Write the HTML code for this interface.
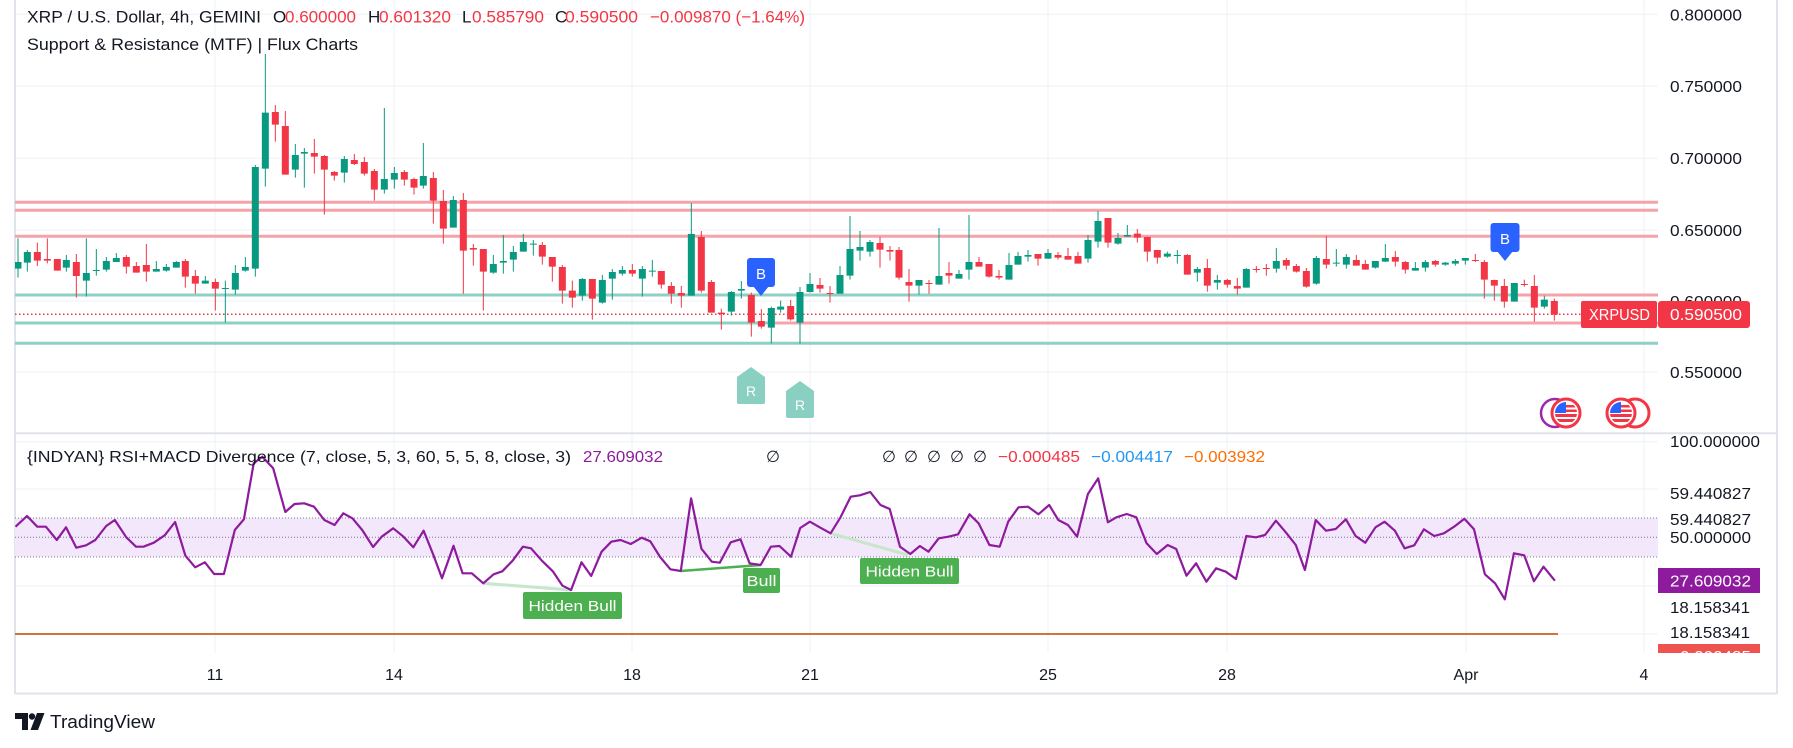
<!DOCTYPE html>
<html><head><meta charset="utf-8"><style>
html,body{margin:0;padding:0;background:#fff;width:1793px;height:748px;overflow:hidden}
svg{display:block}
text{font-family:"Liberation Sans",sans-serif}
</style></head><body>
<svg width="1793" height="748" viewBox="0 0 1793 748" xmlns="http://www.w3.org/2000/svg">
<defs>
<clipPath id="cp1"><rect x="15" y="0" width="1643" height="433"/></clipPath>
<clipPath id="cp2"><rect x="15" y="434" width="1643" height="219"/></clipPath>
<clipPath id="redbox"><rect x="1658" y="644" width="102" height="9"/></clipPath>
<clipPath id="f1"><circle cx="1566" cy="413" r="11"/></clipPath>
<clipPath id="f2"><circle cx="1621" cy="413" r="11"/></clipPath>
</defs>
<rect width="1793" height="748" fill="#fff"/>
<!-- vertical grid -->
<g stroke="#eef0f5" stroke-width="1">
<path d="M215 0V653M394 0V653M632 0V653M810 0V653M1048 0V653M1227 0V653M1466 0V653M1644 0V653"/>
<path d="M15 14.3H1658M15 86H1658M15 158.3H1658M15 230H1658M15 301H1658M15 372H1658"/>
<path d="M15 441.7H1658M15 489H1658M15 586H1658M15 634H1658"/>
</g>
<!-- borders -->
<g stroke="#e0e3eb" stroke-width="2" fill="none">
<path d="M15 0V694M1777 0V694M15 693.5H1777M15 433.3H1777"/>
</g>

<!-- price pane -->
<g clip-path="url(#cp1)">
<g stroke-width="3" fill="none">
<path d="M15 202.3H1658M15 210.3H1658M15 236.3H1658" stroke="#f5a3a9"/>
<path d="M15 295H1517M15 323H771M15 343.3H1658" stroke="#8fd0c5"/>
<path d="M1517 295H1658M771 323H1658" stroke="#f5a3a9"/>
</g>
<path d="M15 314.3H1581" stroke="#f23645" stroke-width="1.5" stroke-dasharray="1.5 2.5"/>

<!-- chunk A -->
<g transform="translate(14,50) scale(0.33333)" fill="none">
<path stroke="#089981" stroke-width="3" d="M12 565V683M40 600V665M157 615V665M217 565V740M247 597V677M277 621V665M307 609V636M427 633V665M457 642V665M487 633V653M574 678V701M634 692V818M664 645V734M694 621V665M724 345V680M754 12V410M844 282V383M871 294V413M991 318V398M1111 174V431M1141 351V416"/>
<path stroke="#089981" stroke-width="21" d="M12 636V656M40 606V638M157 630V653M217 669V692M247 660V663M277 633V659M307 624V636M427 657V665M457 651V662M487 636V653M574 692V701M634 714V717M664 669V719M694 651V662M724 351V656M754 188V356M844 315V359M871 306V311M991 327V368M1111 387V419M1141 369V389"/>
<path stroke="#f23645" stroke-width="3" d="M70 578V648M100 565V640M130 627V662M187 612V743M337 615V671M367 636V668M397 582V695M514 627V713M544 660V731M604 686V782M784 165V275M814 183V374M901 267V371M931 315V494M961 363V392M1021 312V345M1051 321V377M1081 357V452M1171 360V407"/>
<path stroke="#f23645" stroke-width="21" d="M70 606V632M100 627V632M130 627V662M187 636V678M337 621V650M367 648V668M397 645V665M514 633V680M544 678V701M604 696V716M784 186V224M814 228V374M901 309V320M931 318V359M961 366V377M1021 330V342M1051 336V371M1081 363V419M1171 366V389"/>
</g>
<!-- chunk B -->
<g transform="translate(404,50) scale(0.33333)" fill="none">
<path stroke="#089981" stroke-width="3" d="M58 279V416M148 438V533M268 615V671M298 555V671M328 588V665M358 552V605M388 570V617M535 684V752M595 675V761M625 657V749M655 648V677M715 648V740M745 630V680M862 459V737M982 723V797M1012 693V746M1102 770V880M1130 752V788"/>
<path stroke="#089981" stroke-width="21" d="M58 378V407M148 450V533M268 642V668M298 633V638M328 606V629M358 576V605M388 581V584M535 687V737M595 690V758M625 666V686M655 660V671M715 657V686M745 662V665M862 552V737M982 726V785M1012 717V722M1102 774V833M1130 770V779"/>
<path stroke="#f23645" stroke-width="3" d="M30 383V434M88 366V521M118 420V581M178 429V731M208 582V647M238 597V782M415 576V644M445 621V695M475 645V761M505 692V773M565 687V809M685 642V680M772 663V716M802 696V761M832 708V773M892 543V728M922 690V788M952 776V839M1042 728V860M1072 777V836M1160 750V812"/>
<path stroke="#f23645" stroke-width="21" d="M30 387V413M88 384V452M118 453V536M178 450V602M208 594V599M238 597V665M415 585V620M445 621V650M475 651V722M505 722V743M565 687V746M685 660V671M772 663V704M802 708V731M832 729V737M892 561V722M922 696V788M952 788V792M1042 735V818M1072 813V830M1160 768V808"/>
</g>
<!-- chunk C -->
<g transform="translate(794,50) scale(0.33333)" fill="none">
<path stroke="#089981" stroke-width="3" d="M18 711V881M48 669V728M138 648V731M168 498V689M198 543V632M228 570V620M375 690V734M435 534V704M495 660V686M525 495V689M645 609V689M672 606V644M702 600V635M762 597V627M882 555V638M912 483V593M972 549V584M1000 525V560M1120 605V623M1150 600V641"/>
<path stroke="#089981" stroke-width="21" d="M18 726V818M48 702V726M138 675V731M168 597V677M198 591V602M228 576V605M375 690V707M435 678V704M495 672V686M525 636V659M645 645V689M672 618V644M702 615V620M762 609V626M882 570V626M912 513V575M972 564V581M1000 555V560M1120 611V620M1150 615V618"/>
<path stroke="#f23645" stroke-width="3" d="M78 684V728M108 708V758M258 561V653M288 588V632M315 591V689M345 657V755M405 690V731M465 636V701M555 621V650M585 642V683M615 660V689M732 612V647M792 606V629M822 594V629M852 606V641M942 504V593M1030 537V578M1060 560V635M1090 600V641"/>
<path stroke="#f23645" stroke-width="21" d="M78 705V716M108 729V732M258 579V599M288 600V605M315 600V683M345 696V707M405 699V702M465 669V677M555 636V650M585 642V680M615 678V683M732 612V626M792 615V623M822 618V629M852 618V641M942 504V578M1030 551V563M1060 561V605M1090 600V623"/>
</g>
<!-- chunk D -->
<g transform="translate(1184,50) scale(0.33333)" fill="none">
<path stroke="#089981" stroke-width="3" d="M40 651V695M100 675V719M187 654V713M277 594V668M397 618V704M457 597V650M487 612V656M574 633V656M604 582V636M694 636V662M724 630V665M784 636V647M814 627V647M844 624V644M991 699V755M1081 737V776"/>
<path stroke="#089981" stroke-width="21" d="M40 657V668M100 690V698M187 657V713M277 633V656M397 624V701M457 638V641M487 621V644M574 633V653M604 624V635M694 654V662M724 636V653M784 638V644M814 633V641M844 624V632M991 699V755M1081 749V770"/>
<path stroke="#f23645" stroke-width="3" d="M10 612V674M70 627V725M130 687V713M160 684V734M217 648V668M247 642V677M307 624V659M337 642V668M367 654V713M427 558V656M517 615V647M544 630V659M634 603V650M664 633V671M754 630V650M874 612V636M901 630V746M931 689V752M961 687V773M1021 689V710M1051 675V815M1111 746V812"/>
<path stroke="#f23645" stroke-width="21" d="M10 615V674M70 654V707M130 690V704M160 708V716M217 657V660M247 654V657M307 630V647M337 648V665M367 663V710M427 627V644M517 630V647M544 642V659M634 621V635M664 636V659M754 633V644M874 630V633M901 636V689M931 690V707M961 708V755M1021 702V705M1051 708V773M1111 753V794"/>
</g>

<!-- B markers -->
<rect x="747" y="258" width="28" height="29" rx="3" fill="#2962ff"/>
<path d="M753 286L761 296L769 286Z" fill="#2962ff"/>
<text x="761" y="279" font-size="15" fill="#fff" text-anchor="middle">B</text>
<rect x="1490.5" y="223" width="29" height="29" rx="3" fill="#2962ff"/>
<path d="M1497 251L1505 261L1513 251Z" fill="#2962ff"/>
<text x="1505" y="244" font-size="15" fill="#fff" text-anchor="middle">B</text>
<!-- R markers -->
<path d="M751 367L765 377V402Q765 404 763 404H739Q737 404 737 402V377Z" fill="#89cfc2"/>
<text x="751" y="396" font-size="14" fill="#fff" text-anchor="middle">R</text>
<path d="M800 381L814 391V416Q814 418 812 418H788Q786 418 786 416V391Z" fill="#89cfc2"/>
<text x="800" y="410" font-size="14" fill="#fff" text-anchor="middle">R</text>
</g>

<!-- flags -->
<circle cx="1555" cy="413" r="14" fill="#fff" stroke="#9c27b0" stroke-width="2.5"/>
<circle cx="1566" cy="413" r="14" fill="#fff" stroke="#f23645" stroke-width="3"/>
<g clip-path="url(#f1)">
<rect x="1555" y="402" width="22" height="22" fill="#fff"/>
<rect x="1566" y="405" width="11" height="2.5" fill="#f23645"/>
<rect x="1566" y="409.5" width="11" height="2.5" fill="#f23645"/>
<rect x="1555" y="414" width="22" height="3" fill="#f23645"/>
<rect x="1555" y="419" width="22" height="3" fill="#f23645"/>
<rect x="1555" y="402" width="11" height="11" fill="#2962ff"/>
</g>
<circle cx="1635" cy="413" r="14" fill="#fff" stroke="#f23645" stroke-width="3"/>
<circle cx="1621" cy="413" r="14" fill="#fff" stroke="#f23645" stroke-width="3"/>
<g clip-path="url(#f2)">
<rect x="1610" y="402" width="22" height="22" fill="#fff"/>
<rect x="1621" y="405" width="11" height="2.5" fill="#f23645"/>
<rect x="1621" y="409.5" width="11" height="2.5" fill="#f23645"/>
<rect x="1610" y="414" width="22" height="3" fill="#f23645"/>
<rect x="1610" y="419" width="22" height="3" fill="#f23645"/>
<rect x="1610" y="402" width="11" height="11" fill="#2962ff"/>
</g>

<!-- legend price pane -->
<text x="27" y="22.5" font-size="17" fill="#131722" textLength="234" lengthAdjust="spacingAndGlyphs">XRP / U.S. Dollar, 4h, GEMINI</text>
<text x="273" y="22.5" font-size="17" fill="#131722">O</text>
<text x="285" y="22.5" font-size="17" fill="#f23645" textLength="71" lengthAdjust="spacingAndGlyphs">0.600000</text>
<text x="368" y="22.5" font-size="17" fill="#131722">H</text>
<text x="379" y="22.5" font-size="17" fill="#f23645" textLength="72" lengthAdjust="spacingAndGlyphs">0.601320</text>
<text x="462" y="22.5" font-size="17" fill="#131722">L</text>
<text x="472" y="22.5" font-size="17" fill="#f23645" textLength="72" lengthAdjust="spacingAndGlyphs">0.585790</text>
<text x="555" y="22.5" font-size="17" fill="#131722">C</text>
<text x="565" y="22.5" font-size="17" fill="#f23645" textLength="73" lengthAdjust="spacingAndGlyphs">0.590500</text>
<text x="650" y="22.5" font-size="17" fill="#f23645" textLength="155" lengthAdjust="spacingAndGlyphs">−0.009870 (−1.64%)</text>
<text x="27" y="50" font-size="17" fill="#131722" textLength="331" lengthAdjust="spacingAndGlyphs">Support &amp; Resistance (MTF) | Flux Charts</text>

<!-- price axis -->
<g font-size="16" fill="#131722">
<text x="1670" y="20.5" textLength="72" lengthAdjust="spacingAndGlyphs">0.800000</text>
<text x="1670" y="92" textLength="72" lengthAdjust="spacingAndGlyphs">0.750000</text>
<text x="1670" y="164" textLength="72" lengthAdjust="spacingAndGlyphs">0.700000</text>
<text x="1670" y="236" textLength="72" lengthAdjust="spacingAndGlyphs">0.650000</text>
<text x="1670" y="307" textLength="72" lengthAdjust="spacingAndGlyphs">0.600000</text>
<text x="1670" y="378" textLength="72" lengthAdjust="spacingAndGlyphs">0.550000</text>
</g>
<rect x="1581" y="301" width="76" height="27" rx="2" fill="#f23645"/>
<text x="1589" y="320" font-size="16" fill="#fff" textLength="61" lengthAdjust="spacingAndGlyphs">XRPUSD</text>
<rect x="1658" y="301" width="92" height="27" rx="3" fill="#f23645"/>
<text x="1670" y="320" font-size="16" fill="#fff" textLength="72" lengthAdjust="spacingAndGlyphs">0.590500</text>

<!-- RSI pane -->
<g clip-path="url(#cp2)">
<rect x="15" y="518" width="1643" height="39" fill="#f3e8fb"/>
<path d="M15 518H1658M15 537.3H1658M15 557H1658" stroke="#787b86" stroke-width="1" stroke-dasharray="1 2"/>
<path d="M15 634H1558" stroke="#d2733a" stroke-width="2"/>
<path d="M483.3 583.3L571.1 590M830.6 533.3L908 555" stroke="#c8e6c9" stroke-width="3" fill="none"/>
<path d="M680.8 571L760.6 565" stroke="#4caf50" stroke-width="2.5" fill="none"/>
<polyline fill="none" stroke="#8e1a9e" stroke-width="2.2" stroke-linejoin="round" points="15.5,526.7 27,516 37.3,526.7 45.9,526.7 56.8,540 66,527.3 76.3,547.7 86.1,545.3 95.3,540 106.2,526 114.8,520 126.3,537.3 136,546.7 143.5,546.7 153.8,542.7 164.7,535.3 175.1,522 185.4,555.7 195.2,567.3 204.9,562.3 214.1,574 223.9,574 234.8,530 243.9,519.3 253.7,463.3 262.3,456.7 273.2,468.3 285.3,512 294.5,504 304.2,503.3 314,506.7 324.3,520 334.6,525 343.3,513.3 352.4,518.3 362.2,530 373.1,547 381.7,536.7 393.2,528.3 403.5,536.7 413.3,547.3 423.6,530.7 433.4,555 442,578.3 453.5,545.7 462.6,573.3 471.8,573.3 483.3,583.3 493.6,574.3 502.3,571.3 512.6,560.7 522.9,546.7 531,548.3 541.9,560.7 552.8,571.3 562.5,585.7 571.1,590 581.5,562.3 591.2,576 601.6,551.7 611.3,541.7 620.5,540 630.8,544 641.7,537.7 650.3,541.3 660.1,557 670.4,569.3 680.8,571 691.1,498.3 701.4,548.7 711.8,561.7 719.8,562.7 730.7,542.3 740.5,539.3 749.6,563.3 760.6,565 770.9,546.7 779.5,546 791,556.7 800.2,528 809.9,521.7 819.7,527.3 830.6,533.3 840.3,517.7 850.7,496.7 859.9,495.3 870.2,492 880.5,505 889.7,509 900,546.7 910.3,554 919.9,546 928.5,551.7 938.7,538.3 948.4,536.7 958.1,534.3 969.5,514.3 978.6,523.3 989.4,545 999.7,546.7 1008.2,521.7 1018.5,507.3 1028.1,506.7 1038.4,514.3 1049.2,505 1058.3,520 1068,525 1077.1,536.7 1087.9,494 1098.2,478.3 1107.9,522.3 1116.4,517.3 1126.7,514 1136.3,517.3 1146.6,543.3 1156.8,554 1167.7,545 1176.2,549 1186.5,575.7 1196.1,563.3 1206.4,581.7 1216.1,568.3 1225.8,571.7 1236,579 1246.3,536 1255.9,537.3 1265,535 1275.9,520.7 1286.1,532.7 1295.8,545 1304.9,570 1315.7,520 1326,530.7 1335.7,529 1345.9,519.3 1355.6,536 1365.3,542.7 1375.5,527.3 1384.6,521.7 1394.9,530.7 1404.6,548.3 1414.3,545.3 1423.9,529.3 1434.2,536 1443.9,533.3 1454.1,526.7 1464.4,518.7 1474,529.3 1484.9,574.3 1495.1,583.3 1504.8,599.3 1513.9,553.3 1524.2,555.3 1533.9,581.3 1543.5,566.7 1554.9,580.7"/>
<rect x="523" y="592" width="99" height="27" rx="2" fill="#4caf50"/>
<text x="572.5" y="611" font-size="15" fill="#fff" text-anchor="middle" textLength="88" lengthAdjust="spacingAndGlyphs">Hidden Bull</text>
<rect x="743" y="568" width="37" height="25" rx="2" fill="#4caf50"/>
<text x="761.5" y="586" font-size="15" fill="#fff" text-anchor="middle" textLength="30" lengthAdjust="spacingAndGlyphs">Bull</text>
<rect x="860" y="558" width="99" height="26" rx="2" fill="#4caf50"/>
<text x="909.5" y="576.5" font-size="15" fill="#fff" text-anchor="middle" textLength="88" lengthAdjust="spacingAndGlyphs">Hidden Bull</text>
</g>

<!-- RSI legend -->
<text x="27" y="462" font-size="16" fill="#131722" textLength="544" lengthAdjust="spacingAndGlyphs">{INDYAN} RSI+MACD Divergence (7, close, 5, 3, 60, 5, 5, 8, close, 3)</text>
<text x="583" y="462" font-size="16" fill="#8e1a9e" textLength="80" lengthAdjust="spacingAndGlyphs">27.609032</text>
<g font-size="16" fill="#131722" text-anchor="middle">
<text x="773" y="462">∅</text><text x="889" y="462">∅</text><text x="911" y="462">∅</text><text x="934" y="462">∅</text><text x="957" y="462">∅</text><text x="980" y="462">∅</text>
</g>
<text x="998" y="462" font-size="16" fill="#f23645" textLength="82" lengthAdjust="spacingAndGlyphs">−0.000485</text>
<text x="1091" y="462" font-size="16" fill="#2196f3" textLength="82" lengthAdjust="spacingAndGlyphs">−0.004417</text>
<text x="1184" y="462" font-size="16" fill="#ff6d00" textLength="81" lengthAdjust="spacingAndGlyphs">−0.003932</text>

<!-- RSI axis -->
<g font-size="16" fill="#131722">
<text x="1670" y="447" textLength="90" lengthAdjust="spacingAndGlyphs">100.000000</text>
<text x="1670" y="499" textLength="81" lengthAdjust="spacingAndGlyphs">59.440827</text>
<text x="1670" y="543" textLength="81" lengthAdjust="spacingAndGlyphs">50.000000</text>
<rect x="1660" y="508" width="100" height="23" fill="#fff"/>
<text x="1670" y="525" textLength="81" lengthAdjust="spacingAndGlyphs">59.440827</text>
<text x="1670" y="613" textLength="80" lengthAdjust="spacingAndGlyphs">18.158341</text>
<text x="1670" y="638" textLength="80" lengthAdjust="spacingAndGlyphs">18.158341</text>
</g>
<rect x="1658" y="568" width="102" height="25" fill="#8e1a9e"/>
<text x="1670" y="586.5" font-size="16" fill="#fff" textLength="81" lengthAdjust="spacingAndGlyphs">27.609032</text>
<g clip-path="url(#redbox)">
<rect x="1658" y="644" width="102" height="25" fill="#ef5350"/>
<text x="1670" y="662" font-size="16" fill="#fff" textLength="81" lengthAdjust="spacingAndGlyphs">−0.000485</text>
</g>

<!-- time axis -->
<g font-size="16" fill="#131722" text-anchor="middle">
<text x="215" y="680">11</text>
<text x="394" y="680">14</text>
<text x="632" y="680">18</text>
<text x="810" y="680">21</text>
<text x="1048" y="680">25</text>
<text x="1227" y="680">28</text>
<text x="1466" y="680">Apr</text>
<text x="1644" y="680">4</text>
</g>

<!-- TradingView logo -->
<g fill="#131722">
<path d="M15 713H28V730H22V719H15Z"/>
<circle cx="32" cy="716.5" r="3.2"/>
<path d="M37 713H44.5L38 730H30.5Z"/>
</g>
<text x="50" y="728" font-size="18" fill="#131722" textLength="105" lengthAdjust="spacingAndGlyphs">TradingView</text>
</svg>
</body></html>
